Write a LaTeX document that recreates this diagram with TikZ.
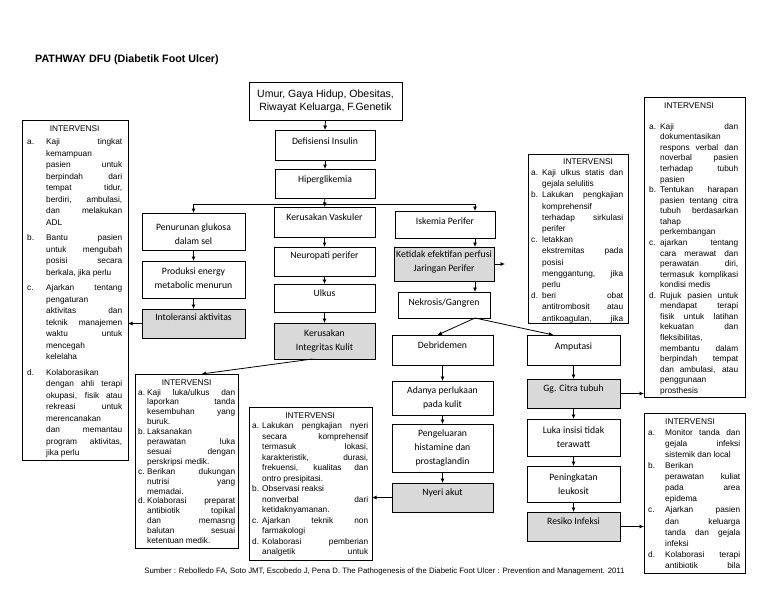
\documentclass[tikz,border=0pt]{standalone}
\usepackage{fontspec}
\setmainfont{Liberation Sans}
\newfontfamily\cbr{Carlito}
\usetikzlibrary{arrows.meta}
\definecolor{gfill}{RGB}{217,217,217}
\newcommand{\J}[1]{\makebox[\linewidth][s]{#1}}
\newcommand{\flowbox}[8]{%
  \node[#6, minimum width=#4-#2, minimum height=#5-#3, anchor=north west] (#1) at (#2,#3) {};
  \node[btx] (#1t) at ([yshift=#8pt]#1.center) {#7};}
\newcommand{\ifont}[1]{\fontsize{8.3}{#1}\selectfont}
\begin{document}
\begin{tikzpicture}[x=1pt,y=-1pt,
  bx/.style={draw=black, line width=0.9pt, fill=white, inner sep=0pt, outer sep=0pt},
  gbx/.style={bx, fill=gfill},
  btx/.style={font=\cbr\fontsize{9.7}{14}\selectfont, align=center, inner sep=0pt},
  itx/.style={inner sep=0pt, anchor=north west},
  arr/.style={line width=0.8pt, -{Latex[length=4.5pt,width=4pt]}},
  ln/.style={line width=0.8pt}]
\useasboundingbox (0,0) rectangle (768,594);
\fill[white] (0,0) rectangle (768,594);

% title
\node[anchor=west, inner sep=0pt, font=\bfseries\fontsize{10.7}{12}\selectfont] (title) at (35,60) {PATHWAY DFU (Diabetik Foot Ulcer)};

% top box
\node[bx, minimum width=153, minimum height=38, anchor=north west] (top) at (249,82) {};
\node[inner sep=0pt, align=center, font=\fontsize{10.5}{13}\selectfont] (topt) at (top.center) {Umur, Gaya Hidup, Obesitas,\\Riwayat Keluarga, F.Genetik};

% flow boxes
\flowbox{defi}{275}{130}{375}{160}{bx}{Defisiensi Insulin}{3.5}
\flowbox{hiper}{275}{169}{375}{198}{bx}{Hiperglikemia}{4}
\flowbox{pen}{142}{213}{245}{250}{bx}{Penurunan glukosa\\dalam sel}{-3}
\flowbox{prod}{142}{261}{245}{298}{bx}{Produksi energy\\metabolic menurun}{1.5}
\flowbox{intol}{142}{309}{245}{338}{gbx}{Intoleransi aktivitas}{6}
\flowbox{kvas}{274}{207}{375}{237}{bx}{Kerusakan Vaskuler}{5}
\flowbox{neuro}{274}{247}{375}{276}{bx}{Neuropati perifer}{5.5}
\flowbox{ulkus}{274}{284}{375}{312}{bx}{Ulkus}{5}
\flowbox{kik}{274}{323}{375}{359}{gbx}{Kerusakan\\Integritas Kulit}{0.5}
\flowbox{isk}{395}{211}{495}{238}{bx}{Iskemia Perifer}{3.5}
\flowbox{ket}{394}{247}{494}{281}{gbx}{Ketidak efektifan perfusi\\Jaringan Perifer}{2}
\flowbox{nek}{398}{292}{490}{318}{bx}{Nekrosis/Gangren}{2}
\flowbox{deb}{392}{335}{493}{365}{bx}{Debridemen}{5}
\flowbox{ada}{392}{381}{493}{415}{bx}{Adanya perlukaan\\pada kulit}{0}
\flowbox{peng}{392}{424}{493}{472}{bx}{Pengeluaran\\histamine dan\\prostaglandin}{0}
\flowbox{nyeri}{392}{483}{493}{512}{gbx}{Nyeri akut}{5}
\flowbox{amp}{527}{335}{620}{365}{bx}{Amputasi}{3}
\flowbox{citra}{527}{379}{620}{408}{gbx}{Gg. Citra tubuh}{4.5}
\flowbox{luka}{527}{419}{620}{456}{bx}{Luka insisi tidak\\terawatt}{0}
\flowbox{lek}{527}{466}{620}{502}{bx}{Peningkatan\\leukosit}{0}
\flowbox{res}{527}{512}{620}{541}{gbx}{Resiko Infeksi}{5}

% intervention boxes
\node[bx, minimum width=106, minimum height=340, anchor=north west] (L1) at (22,120) {};
\node[itx, font=\ifont{11.5}] (L1t) at (27,123) {%
\begin{tabular}{@{}p{19pt}@{}p{76pt}@{}}
\multicolumn{2}{@{}c@{}}{INTERVENSI}\\[2pt]
a. & \J{Kaji tingkat}\\
 & kemampuan\\
 & \J{pasien untuk}\\
 & \J{berpindah dari}\\
 & \J{tempat tidur,}\\
 & \J{berdiri, ambulasi,}\\
 & \J{dan melakukan}\\
 & ADL\\[4pt]
b. & \J{Bantu pasien}\\
 & \J{untuk mengubah}\\
 & \J{posisi secara}\\
 & berkala, jika perlu\\[4pt]
c. & \J{Ajarkan tentang}\\
 & pengaturan\\
 & \J{aktivitas dan}\\
 & \J{teknik manajemen}\\
 & \J{waktu untuk}\\
 & mencegah\\
 & kelelaha\\[4pt]
d. & Kolaborasikan\\
 & \J{dengan ahli terapi}\\
 & \J{okupasi, fisik atau}\\
 & \J{rekreasi untuk}\\
 & merencanakan\\
 & \J{dan memantau}\\
 & \J{program aktivitas,}\\
 & jika perlu
\end{tabular}};

\node[bx, minimum width=100, minimum height=169, anchor=north west] (R1) at (528,154) {};
\node[itx, font=\ifont{11.2}] (R1t) at (531,156.2) {%
\begin{tabular}{@{}p{11pt}@{}p{81pt}@{}}
 & \hspace*{21pt}INTERVENSI\\
a. & \J{Kaji ulkus statis dan}\\
 & gejala selulitis\\
b. & \J{Lakukan pengkajian}\\
 & komprehensif\\
 & \J{terhadap sirkulasi}\\
 & perifer\\
c. & letakkan\\
 & \J{ekstremitas pada}\\
 & posisi\\
 & \J{menggantung, jika}\\
 & perlu\\
d. & \J{beri obat}\\
 & \J{antitrombosit atau}\\
 & \J{antikoagulan, jika}
\end{tabular}};

\node[bx, minimum width=101, minimum height=300, anchor=north west] (FR1) at (644,97) {};
\node[itx, font=\ifont{10.56}] (FR1t) at (649,100.6) {%
\begin{tabular}{@{}p{11pt}@{}p{78pt}@{}}
 & \hspace*{4pt}INTERVENSI\\
 & \\
a. & \J{Kaji dan}\\
 & dokumentasikan\\
 & \J{respons verbal dan}\\
 & \J{noverbal pasien}\\
 & \J{terhadap tubuh}\\
 & pasien\\
b. & \J{Tentukan harapan}\\
 & \J{pasien tentang citra}\\
 & \J{tubuh berdasarkan}\\
 & tahap\\
 & perkembangan\\
c. & \J{ajarkan tentang}\\
 & \J{cara merawat dan}\\
 & \J{perawatan diri,}\\
 & \J{termasuk komplikasi}\\
 & kondisi medis\\
d. & \J{Rujuk pasien untuk}\\
 & \J{mendapat terapi}\\
 & \J{fisik untuk latihan}\\
 & \J{kekuatan dan}\\
 & fleksibilitas,\\
 & \J{membantu dalam}\\
 & \J{berpindah tempat}\\
 & \J{dan ambulasi, atau}\\
 & penggunaan\\
 & prosthesis
\end{tabular}};

\node[bx, minimum width=101, minimum height=160, anchor=north west] (FR2) at (644,413) {};
\node[itx, font=\ifont{11.1}] (FR2t) at (648,416.2) {%
\begin{tabular}{@{}p{17pt}@{}p{75pt}@{}}
 & INTERVENSI\\
a. & \J{Monitor tanda dan}\\
 & \J{gejala infeksi}\\
 & sistemik dan local\\
b. & Berikan\\
 & \J{perawatan kuliat}\\
 & \J{pada area}\\
 & epidema\\
c. & \J{Ajarkan pasien}\\
 & \J{dan keluarga}\\
 & \J{tanda dan gejala}\\
 & infeksi\\
d. & \J{Kolaborasi terapi}\\
 & \J{antibiotik bila}
\end{tabular}};

\node[bx, minimum width=103, minimum height=174, anchor=north west] (LL) at (135,374) {};
\node[itx, font=\ifont{9.9}] (LLt) at (138,378) {%
\begin{tabular}{@{}p{9pt}@{}p{88pt}@{}}
\multicolumn{2}{@{}c@{}}{INTERVENSI}\\
a. & \J{Kaji luka/ulkus dan}\\
 & \J{laporkan tanda}\\
 & \J{kesembuhan yang}\\
 & buruk.\\
b. & Laksanakan\\
 & \J{perawatan luka}\\
 & \J{sesuai dengan}\\
 & perskripsi medik.\\
c. & \J{Berikan dukungan}\\
 & \J{nutrisi yang}\\
 & memadai.\\
d. & \J{Kolaborasi preparat}\\
 & \J{antibiotik topikal}\\
 & \J{dan memasng}\\
 & \J{balutan sesuai}\\
 & ketentuan medik.
\end{tabular}};

\node[bx, minimum width=123, minimum height=153, anchor=north west] (LM) at (249,407) {};
\node[itx, font=\ifont{10.5}] (LMt) at (252,410.6) {%
\begin{tabular}{@{}p{10pt}@{}p{106pt}@{}}
\multicolumn{2}{@{}c@{}}{INTERVENSI}\\
a. & \J{Lakukan pengkajian nyeri}\\
 & \J{secara komprehensif}\\
 & \J{termasuk lokasi,}\\
 & \J{karakteristik, durasi,}\\
 & \J{frekuensi, kualitas dan}\\
 & ontro presipitasi.\\
b. & Observasi reaksi\\
 & \J{nonverbal dari}\\
 & ketidaknyamanan.\\
c. & \J{Ajarkan teknik non}\\
 & farmakologi\\
d. & \J{Kolaborasi pemberian}\\
 & \J{analgetik untuk}
\end{tabular}};

% connectors
\draw[arr] (top.south) -- (defi.north);
\draw[arr] (defi) -- (hiper);
\draw[arr] (hiper) -- (kvas);
\coordinate (jl) at (193.5,204);
\coordinate (jr) at (475,204);
\draw[ln] (jl) -- (jr);
\draw[arr] (jl) -- (jl |- pen.north);
\draw[arr] (jr) -- (jr |- isk.north);
\draw[arr] (pen) -- (prod);
\draw[arr] (prod) -- (intol);
\draw[arr] (kvas) -- (neuro);
\draw[arr] (neuro) -- (ulkus);
\draw[arr] (ulkus) -- (kik);
\draw[arr] (isk.south -| jr) -- (ket.north -| jr);
\draw[arr] (ket.south -| jr) -- (nek.north -| jr);
\coordinate (nk) at (nek.south -| jr);
\draw[arr] (nk) -- ([xshift=-5pt]deb.north);
\draw[arr] (nk) -- ([xshift=-20pt]amp.north);
\draw[arr] (deb) -- (ada);
\draw[arr] (ada) -- (peng);
\draw[arr] (peng) -- (nyeri);
\draw[arr] (amp) -- (citra);
\draw[arr] (citra) -- (luka);
\draw[arr] (luka) -- (lek);
\draw[arr] (lek) -- (res);
\draw[arr] (intol.west) -- (intol.west -| L1.east);
\draw[arr] ([xshift=-12pt]kik.south) -- ([xshift=15pt]LL.north);
\coordinate (ketx) at ([xshift=11pt]ket.east);
\draw[arr] (ket.east) -- (ketx);
\draw[arr] (nyeri.west) -- (nyeri.west -| LM.east);
\draw[arr] (citra.east) -- (citra.east -| FR1.west);
\draw[arr] (res.east) -- (res.east -| FR2.west);

% source
\node[inner sep=0pt, font=\fontsize{7.8}{10}\selectfont] (src) at (384.5,571) {Sumber : Rebolledo FA, Soto JMT, Escobedo J, Pena D. The Pathogenesis of the Diabetic Foot Ulcer : Prevention and Management. 2011};
\end{tikzpicture}
\end{document}
